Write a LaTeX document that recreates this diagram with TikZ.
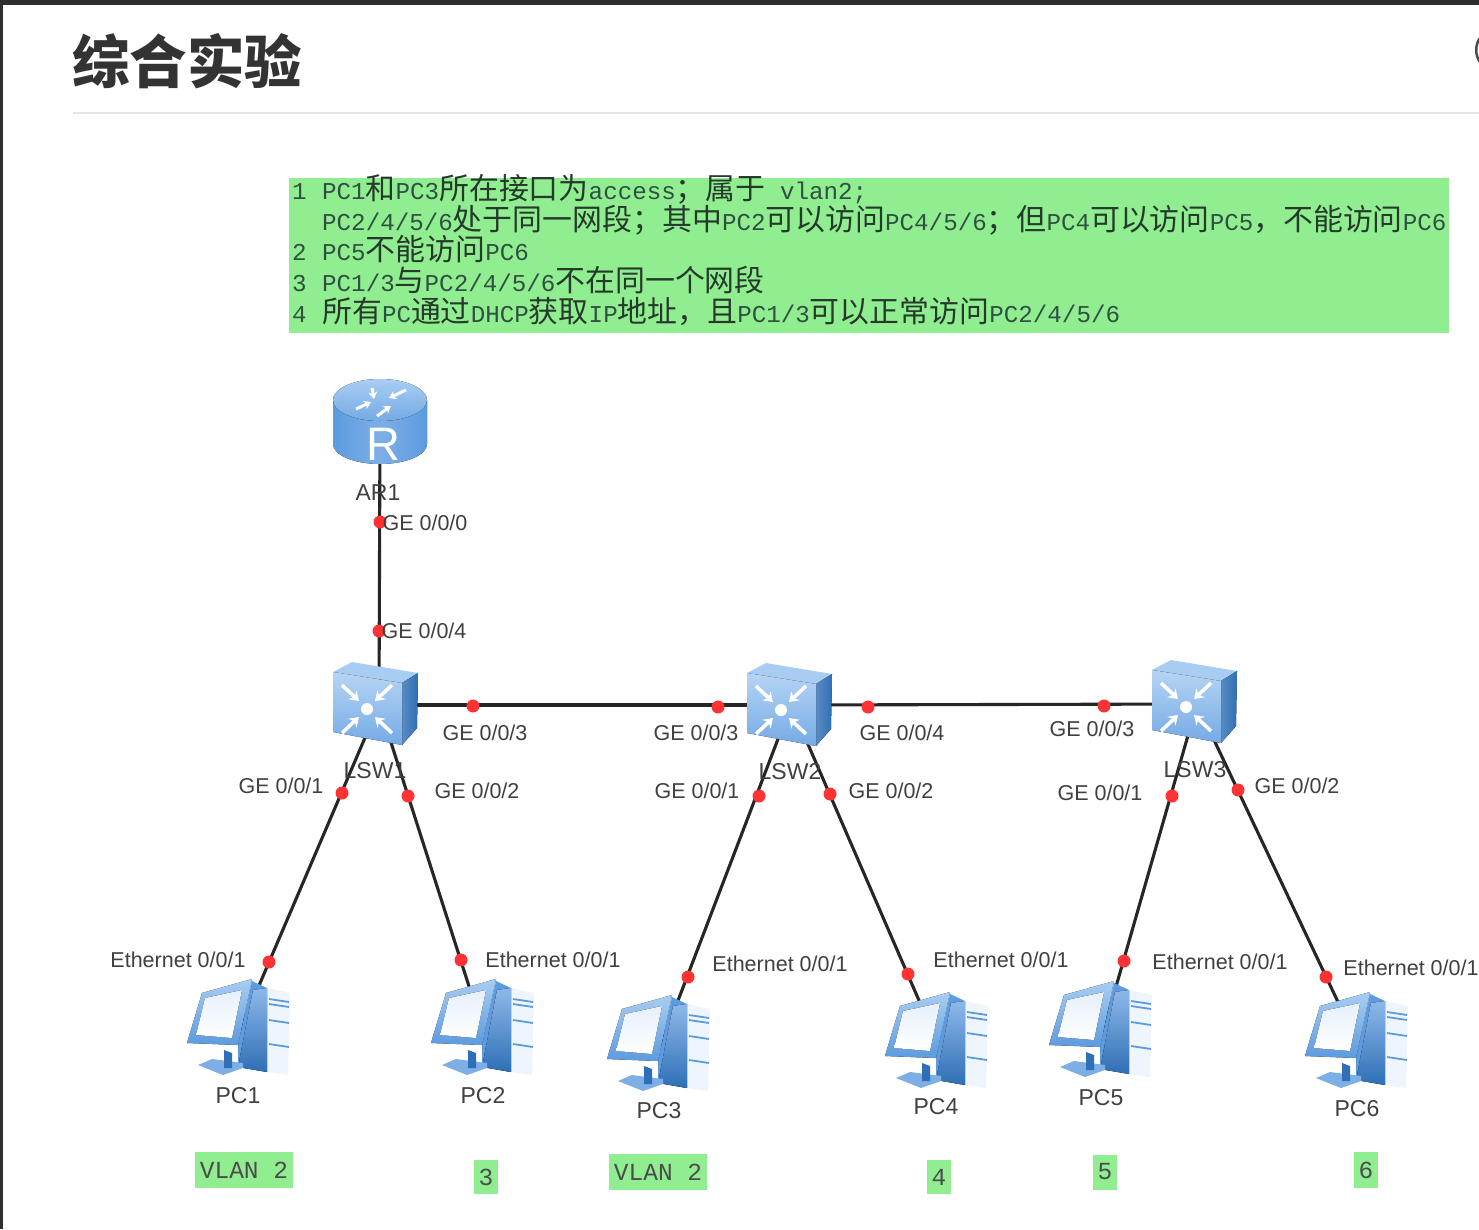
\documentclass[tikz,border=0pt]{standalone}
\usepackage{fontspec}
\setmainfont{Liberation Sans}
\newfontfamily\cjkfam{Noto Sans CJK SC}
\newfontfamily\monofam{Liberation Mono}
\usetikzlibrary{arrows.meta}
\definecolor{gbox}{HTML}{90EE90}
\definecolor{monoc}{HTML}{2F5043}
\definecolor{cjkc}{HTML}{263A2C}
\definecolor{iconblue}{HTML}{5C9BE0}
\definecolor{icondark}{HTML}{2F6FB5}
\definecolor{iconlight}{HTML}{A9CDF2}
\newcommand\cj[1]{{\cjkfam\fontsize{29.9}{30}\selectfont\color{cjkc}#1}}
\tikzset{
  x=1pt,y=-1pt,
  linkline/.style={draw=black!85,line width=3.1pt},
  portdot/.style={circle,fill=red!80!white,inner sep=0pt,minimum size=13pt},
  portlab/.style={font=\fontsize{21.5}{22}\selectfont,text=black!75,inner sep=0pt},
  devlab/.style={font=\fontsize{23}{24}\selectfont,text=black!75,inner sep=0pt},
  reqline/.style={anchor=base west,inner sep=0pt,font=\monofam\fontsize{24.2}{26}\selectfont,text=monoc},
  greenbox/.style={fill=gbox,inner sep=0pt,font=\monofam\fontsize{24.5}{24}\selectfont,text=black!70},
  pics/routericon/.style={code={
    \fill[left color=iconblue,right color=iconblue,middle color=iconblue!80!white]
      (-47,-22) -- (-47,22) arc[start angle=180,end angle=0,x radius=47,y radius=20] -- (47,-22) -- cycle;
    \fill[top color=iconlight,bottom color=iconblue!85!white] (0,-22) ellipse[x radius=47,y radius=21];
    \foreach \a/\b/\c/\d in {-8/-34/-6/-23,-24/-13/-9/-20,26/-32/9/-24,-3/-6/11/-16}{
      \draw[white,line width=3pt,-{Stealth[length=7pt,width=9pt]}] (\a,\b) -- (\c,\d);}
    \node[text=white,inner sep=0pt,font=\fontsize{47}{47}\selectfont] (Rmark) at (3,22) {R};
  }},
  pics/switchicon/.style={code={
    \fill[iconlight] (-43,-33) -- (-24,-43) -- (42,-32) -- (26,-22) -- cycle;
    \fill[left color=icondark!80,right color=icondark] (26,-22) -- (42,-32) -- (41,23) -- (26,40) -- cycle;
    \fill[top color=iconlight!85!white,bottom color=iconblue!85!white] (-43,-33) -- (26,-22) -- (26,40) -- (-43,27) -- cycle;
    \fill[white] (-9,4) circle[radius=6];
    \foreach \sx/\sy in {-1/-1,1/-1,-1/1,1/1}{
      \draw[white,line width=3.5pt,-{Stealth[length=9pt,width=12pt]}]
        ({-9+\sx*25},{4+\sy*24}) -- ({-9+\sx*8},{4+\sy*8});}
  }},
  pics/pcicon/.style={code={
    \fill[iconblue] (14,-49) -- (29,-42) -- (29,42) -- (0,37) -- (0,15) -- cycle;
    \fill[white!80!iconlight] (29,-42) -- (52,-37) -- (50,45) -- (29,42) -- cycle;
    \foreach \yy in {-31,-26,-10,14}{\draw[iconblue,line width=1.8pt] (31,\yy) -- (51,{\yy+3});}
    \fill[top color=iconblue!70,bottom color=icondark] (15,-40) -- (29,-42) -- (29,42) -- (0,37) -- cycle;
    \fill[iconblue!80] (-40,35) -- (-26,29) -- (5,33) -- (5,38) -- (-15,45) -- cycle;
    \fill[icondark] (-14,20) -- (-6,23) -- (-6,38) -- (-14,38) -- cycle;
    \fill[top color=iconlight,bottom color=iconblue] (-36,-37) -- (14,-51) -- (0,15) -- (-51,13) -- cycle;
    \fill[top color=white!70!iconlight,bottom color=white] (-33,-32) -- (4,-40) -- (-6,8) -- (-42,5) -- cycle;
  }}
}
\begin{document}
\begin{tikzpicture}
\useasboundingbox (0,0) rectangle (1479,1229);
\fill[white] (0,0) rectangle (1479,1229);
\fill[black!82] (0,0) rectangle (1479,5);
\fill[black!82] (0,0) rectangle (3,1229);
\draw[black!70,line width=2.5pt] (1480,38) .. controls (1475,44) and (1475,56) .. (1480,62);
\node[anchor=base west,inner sep=0pt,font=\cjkfam\bfseries\fontsize{57.5}{58}\selectfont,text=black!80] (title) at (72,83) {综合实验};
\coordinate (ruleL) at (73,113);
\coordinate (ruleR) at (1479,113);
\draw[black!10,line width=2pt] (ruleL) -- (ruleR);
% requirement box
\fill[gbox] (289,178) rectangle (1449,333);
\node[reqline] (n1) at (292,199) {1};
\node[reqline] (l1) at (322,199) {PC1\cj{和}PC3\cj{所在接口为}access\cj{；属于} vlan2;};
\node[reqline] (l1b) at (322,230) {PC2/4/5/6\cj{处于同一网段；其中}PC2\cj{可以访问}PC4/5/6\cj{；但}PC4\cj{可以访问}PC5\cj{，不能访问}PC6};
\node[reqline] (n2) at (292,260) {2};
\node[reqline] (l2) at (322,260) {PC5\cj{不能访问}PC6};
\node[reqline] (n3) at (292,291) {3};
\node[reqline] (l3) at (322,291) {PC1/3\cj{与}PC2/4/5/6\cj{不在同一个网段}};
\node[reqline] (n4) at (292,322) {4};
\node[reqline] (l4) at (322,322) {\cj{所有}PC\cj{通过}DHCP\cj{获取}IP\cj{地址，且}PC1/3\cj{可以正常访问}PC2/4/5/6};
% device anchors
\coordinate (AR1) at (380,422);
\coordinate (LSW1) at (379,705);
\coordinate (LSW2) at (791,705);
\coordinate (LSW3) at (1197,704);
\coordinate (PC1) at (240,1030);
\coordinate (PC2) at (483,1030);
\coordinate (PC3) at (661,1045);
\coordinate (PC4) at (937,1042);
\coordinate (PC5) at (1103,1032);
\coordinate (PC6) at (1356,1040);
% connectors
\draw[linkline] (AR1) -- (LSW1);
\draw[linkline] (LSW1) -- (LSW2);
\draw[linkline] (LSW2) -- (LSW3);
\draw[linkline] (LSW1) -- (PC1);
\draw[linkline] (LSW1) -- (PC2);
\draw[linkline] (LSW2) -- (PC3);
\draw[linkline] (LSW2) -- (PC4);
\draw[linkline] (LSW3) -- (PC5);
\draw[linkline] (LSW3) -- (PC6);
% icons
\pic at (380,422) {routericon};
\pic at (376,705) {switchicon};
\pic at (790,706) {switchicon};
\pic at (1195,703) {switchicon};
\pic at (238,1030) {pcicon};
\pic at (482,1030) {pcicon};
\pic at (658,1046) {pcicon};
\pic at (936,1043) {pcicon};
\pic at (1100,1032) {pcicon};
\pic at (1356,1043) {pcicon};
% port dots
\foreach \nm/\px/\py in {a/380/522,b/379/631,c/473/706,d/718/707,e/868/707,f/1104/706,
  g/342/793,h/408/796,i/269/962,j/461/960,k/759/796,l/830/794,m/688/977,o/908/974,
  p/1172/796,q/1238/790,r/1124/961,s/1326/977}{
  \node[portdot] (dot\nm) at (\px,\py) {};}
% port labels
\node[portlab] (pa) at (425,523) {GE 0/0/0};
\node[portlab] (pb) at (424,631) {GE 0/0/4};
\node[portlab] (pc) at (485,733) {GE 0/0/3};
\node[portlab] (pd) at (696,733) {GE 0/0/3};
\node[portlab] (pe) at (902,733) {GE 0/0/4};
\node[portlab] (pf) at (1092,729) {GE 0/0/3};
\node[portlab] (pg) at (281,786) {GE 0/0/1};
\node[portlab] (ph) at (477,791) {GE 0/0/2};
\node[portlab] (pk) at (697,791) {GE 0/0/1};
\node[portlab] (pl) at (891,791) {GE 0/0/2};
\node[portlab] (pp) at (1100,793) {GE 0/0/1};
\node[portlab] (pq) at (1297,786) {GE 0/0/2};
\node[portlab] (pi) at (178,960) {Ethernet 0/0/1};
\node[portlab] (pj) at (553,960) {Ethernet 0/0/1};
\node[portlab] (pm) at (780,964) {Ethernet 0/0/1};
\node[portlab] (po) at (1001,960) {Ethernet 0/0/1};
\node[portlab] (pr) at (1220,962) {Ethernet 0/0/1};
\node[portlab] (ps) at (1411,968) {Ethernet 0/0/1};
% device labels
\node[devlab] (tAR1) at (378,493) {AR1};
\node[devlab] (tLSW1) at (375,771) {LSW1};
\node[devlab] (tLSW2) at (790,772) {LSW2};
\node[devlab] (tLSW3) at (1195,770) {LSW3};
\node[devlab] (tPC1) at (238,1096) {PC1};
\node[devlab] (tPC2) at (483,1096) {PC2};
\node[devlab] (tPC3) at (659,1111) {PC3};
\node[devlab] (tPC4) at (936,1107) {PC4};
\node[devlab] (tPC5) at (1101,1098) {PC5};
\node[devlab] (tPC6) at (1357,1109) {PC6};
% vlan tags
\node[greenbox,minimum width=98pt,minimum height=36pt] (v1) at (244,1170) {VLAN 2};
\node[greenbox,minimum width=24pt,minimum height=34pt] (v2) at (486,1177) {3};
\node[greenbox,minimum width=98pt,minimum height=36pt] (v3) at (658,1172) {VLAN 2};
\node[greenbox,minimum width=24pt,minimum height=34pt] (v4) at (939,1177) {4};
\node[greenbox,minimum width=24pt,minimum height=35pt] (v5) at (1105,1172) {5};
\node[greenbox,minimum width=24pt,minimum height=36pt] (v6) at (1366,1170) {6};
\end{tikzpicture}
\end{document}
